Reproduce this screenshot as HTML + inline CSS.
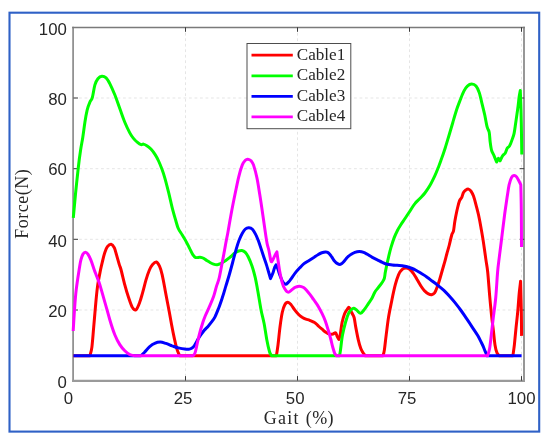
<!DOCTYPE html>
<html><head><meta charset="utf-8"><title>Cable forces</title>
<style>
html,body{margin:0;padding:0;background:#fff;}
body{width:550px;height:442px;overflow:hidden;}
svg{display:block;}
.sans{font-family:"Liberation Sans",Arial,sans-serif;font-size:16.8px;fill:#262626;}
.serif{font-family:"Liberation Serif","Times New Roman",serif;fill:#262626;}
.curve{fill:none;stroke-width:3.0;stroke-linejoin:round;stroke-linecap:butt;}
</style></head><body>
<svg width="550" height="442" viewBox="0 0 550 442">
<rect x="0" y="0" width="550" height="442" fill="#ffffff"/>
<rect x="9.5" y="12.7" width="529.7" height="418.9" fill="none" stroke="#2f61c6" stroke-width="2.1"/>
<g stroke="#e5e5e5" stroke-width="1" stroke-dasharray="2.8 2.7" fill="none">
<line x1="185.5" y1="27.3" x2="185.5" y2="380.6"/>
<line x1="297.5" y1="27.3" x2="297.5" y2="380.6"/>
<line x1="409.5" y1="27.3" x2="409.5" y2="380.6"/>
<line x1="521.5" y1="27.3" x2="521.5" y2="380.6"/>
<line x1="73.5" y1="310.0" x2="524.2" y2="310.0"/>
<line x1="73.5" y1="239.3" x2="524.2" y2="239.3"/>
<line x1="73.5" y1="168.7" x2="524.2" y2="168.7"/>
<line x1="73.5" y1="98.0" x2="524.2" y2="98.0"/>
</g>
<g fill="none" stroke-linecap="butt">
<line x1="73.1" y1="26.7" x2="73.1" y2="381.95" stroke="#929292" stroke-width="1.8"/>
<line x1="524" y1="26.7" x2="524" y2="381.95" stroke="#929292" stroke-width="1.9"/>
<line x1="72.2" y1="27.45" x2="524.95" y2="27.45" stroke="#7a7a7a" stroke-width="1.5"/>
<line x1="72.2" y1="380.9" x2="524.95" y2="380.9" stroke="#9a9a9a" stroke-width="2.1"/>
</g>
<g stroke="#3a3a3a" stroke-width="1">
<line x1="185.5" y1="380.6" x2="185.5" y2="376.1"/>
<line x1="185.5" y1="27.3" x2="185.5" y2="31.8"/>
<line x1="297.5" y1="380.6" x2="297.5" y2="376.1"/>
<line x1="297.5" y1="27.3" x2="297.5" y2="31.8"/>
<line x1="409.5" y1="380.6" x2="409.5" y2="376.1"/>
<line x1="409.5" y1="27.3" x2="409.5" y2="31.8"/>
<line x1="521.5" y1="380.6" x2="521.5" y2="376.1"/>
<line x1="521.5" y1="27.3" x2="521.5" y2="31.8"/>
<line x1="73.5" y1="310.0" x2="78.0" y2="310.0"/>
<line x1="524.2" y1="310.0" x2="519.7" y2="310.0"/>
<line x1="73.5" y1="239.3" x2="78.0" y2="239.3"/>
<line x1="524.2" y1="239.3" x2="519.7" y2="239.3"/>
<line x1="73.5" y1="168.7" x2="78.0" y2="168.7"/>
<line x1="524.2" y1="168.7" x2="519.7" y2="168.7"/>
<line x1="73.5" y1="98.0" x2="78.0" y2="98.0"/>
<line x1="524.2" y1="98.0" x2="519.7" y2="98.0"/>
</g>
<g class="curves">
<path class="curve" stroke="#ff0000" d="M73.5 355.8L89.9 355.8C90.2 354.4 91.3 351.9 91.9 347.1C92.5 342.3 93.1 333.8 93.7 327.2C94.3 320.6 94.8 313.9 95.4 307.3C96.0 300.7 96.6 293.6 97.4 287.4C98.2 281.2 99.6 274.6 100.5 270.0C101.4 265.4 102.2 262.6 102.9 259.6C103.6 256.6 104.2 254.3 104.9 252.2C105.7 250.0 106.4 248.0 107.4 246.7C108.4 245.4 109.9 244.0 111.1 244.2C112.2 244.4 113.3 245.8 114.3 247.7C115.2 249.6 116.0 253.1 116.8 255.9C117.6 258.7 118.6 262.2 119.3 264.6C120.0 267.0 120.2 266.6 121.1 270.0C122.0 273.4 123.6 280.3 124.8 284.9C126.0 289.4 127.2 293.6 128.5 297.3C129.8 301.0 131.1 305.2 132.3 307.3C133.6 309.4 134.8 310.6 136.0 309.8C137.2 309.0 138.6 305.2 139.7 302.3C140.8 299.4 141.6 296.1 142.7 292.4C143.8 288.7 144.9 283.6 146.0 279.9C147.1 276.2 148.3 272.6 149.4 270.0C150.5 267.4 151.4 265.7 152.6 264.4C153.8 263.1 155.2 261.7 156.4 262.0C157.6 262.3 158.5 264.1 159.5 266.2C160.5 268.3 161.3 270.9 162.2 274.9C163.1 278.8 164.1 284.5 165.1 289.9C166.1 295.3 167.3 301.5 168.4 307.3C169.5 313.1 170.6 319.3 171.6 324.7C172.6 330.1 173.7 335.5 174.6 339.6C175.5 343.8 176.3 346.9 177.1 349.6C177.9 352.3 179.2 354.8 179.6 355.8L276.4 355.8C276.7 354.0 277.4 349.8 278.0 345.0C278.6 340.2 279.3 332.4 280.0 327.0C280.7 321.6 281.5 316.0 282.3 312.3C283.1 308.6 283.9 306.5 284.8 304.8C285.7 303.1 286.9 302.3 287.9 302.3C288.9 302.3 289.9 303.4 291.0 304.6C292.1 305.9 293.5 308.2 294.7 309.8C295.9 311.4 297.2 313.0 298.4 314.2C299.6 315.4 300.9 316.4 302.1 317.2C303.4 318.0 304.6 318.6 305.9 319.1C307.2 319.6 308.2 319.7 309.7 320.3C311.1 320.9 313.2 321.6 314.6 322.5C316.1 323.4 317.1 324.9 318.4 326.0C319.6 327.1 320.9 328.2 322.1 329.2C323.3 330.2 324.6 331.4 325.8 332.2C327.1 333.0 328.4 333.8 329.6 334.1C330.8 334.4 332.0 334.2 333.0 334.0C334.0 333.8 334.9 332.4 335.6 332.8C336.3 333.2 336.6 335.1 337.1 336.2C337.7 337.3 338.6 338.9 338.9 339.4C339.1 338.4 339.9 336.5 340.4 333.7C340.9 330.9 341.4 325.7 342.1 322.4C342.8 319.1 343.8 315.8 344.6 313.7C345.4 311.6 346.4 310.5 347.1 309.5C347.9 308.5 348.4 307.0 349.1 307.5C349.9 308.0 350.8 310.8 351.6 312.5C352.4 314.2 353.4 315.0 354.1 317.5C354.8 320.0 355.1 323.7 355.8 327.4C356.5 331.1 357.5 336.4 358.3 339.9C359.1 343.4 360.0 346.4 360.8 348.6C361.6 350.8 362.6 351.9 363.3 353.1C364.1 354.3 365.0 355.4 365.3 355.8L383.0 355.8C383.2 354.8 383.9 353.4 384.4 349.9C384.9 346.4 385.5 340.3 386.2 334.9C386.9 329.5 387.6 323.3 388.5 317.5C389.4 311.7 390.8 305.5 391.9 300.0C393.0 294.5 394.2 288.9 395.3 284.7C396.4 280.5 397.4 277.4 398.5 274.8C399.6 272.2 400.9 270.4 402.2 269.3C403.4 268.2 404.8 268.0 406.0 268.0C407.2 268.0 408.5 268.4 409.7 269.3C410.9 270.2 412.1 271.8 413.4 273.5C414.6 275.2 415.9 277.6 417.2 279.7C418.4 281.8 419.7 284.1 420.9 286.0C422.1 287.9 423.4 289.6 424.6 290.9C425.9 292.2 427.2 293.3 428.4 293.9C429.6 294.5 430.6 294.9 431.6 294.7C432.6 294.5 433.7 294.1 434.6 292.9C435.5 291.6 436.3 289.4 437.1 287.2C437.9 285.0 438.8 282.4 439.6 279.7C440.4 277.0 441.3 273.9 442.1 271.0C442.9 268.1 443.8 265.1 444.6 262.3C445.4 259.5 446.0 256.9 446.8 254.0C447.6 251.1 448.5 248.2 449.3 245.0C450.1 241.8 451.1 237.0 451.8 234.7C452.5 232.3 453.0 233.2 453.5 230.9C454.0 228.6 454.3 224.5 454.9 221.0C455.5 217.5 456.4 213.1 457.1 209.8C457.9 206.5 458.6 203.2 459.4 201.1C460.2 199.0 461.1 198.8 461.8 197.3C462.5 195.9 462.8 193.6 463.5 192.4C464.2 191.2 465.2 190.5 466.0 189.9C466.8 189.3 467.7 188.9 468.5 189.1C469.3 189.3 470.2 189.9 471.0 191.1C471.8 192.3 472.7 193.8 473.5 196.1C474.3 198.4 475.2 201.7 476.0 204.8C476.8 207.9 477.7 211.1 478.5 214.8C479.3 218.5 480.1 222.6 480.9 227.2C481.7 231.8 482.6 236.7 483.4 242.1C484.2 247.5 485.2 254.6 485.9 259.6C486.6 264.6 487.1 266.1 487.7 272.0C488.3 277.9 489.0 287.8 489.6 295.0C490.2 302.2 490.9 309.2 491.5 315.0C492.1 320.8 492.7 324.9 493.3 329.9C493.9 334.9 494.4 341.1 495.0 344.9C495.6 348.7 496.2 351.1 497.0 352.9C497.8 354.7 499.1 355.3 499.5 355.8L512.9 355.8C513.1 353.9 513.9 349.4 514.4 344.6C514.9 339.8 515.5 333.0 516.1 327.2C516.7 321.4 517.4 315.6 517.9 309.8C518.4 304.0 518.8 297.2 519.3 292.4C519.8 287.6 520.4 283.1 520.6 281.2C520.7 286.0 521.1 300.7 521.3 309.8C521.5 318.9 521.5 331.5 521.6 335.9"/>
<path class="curve" stroke="#00ff00" d="M73.3 217.8C73.7 213.8 74.7 202.2 75.5 194.0C76.3 185.8 77.4 175.8 78.2 168.5C79.0 161.2 79.8 155.2 80.6 150.0C81.4 144.8 82.1 141.8 82.8 137.2C83.5 132.6 84.2 126.8 84.9 122.2C85.6 117.6 86.4 113.1 87.2 109.8C88.0 106.5 88.9 104.4 89.8 102.3C90.7 100.2 91.6 100.2 92.4 97.3C93.2 94.4 94.0 88.0 94.9 84.9C95.8 81.8 96.7 80.2 97.9 78.7C99.1 77.2 100.5 76.3 101.9 76.2C103.3 76.1 104.8 76.7 106.1 77.9C107.4 79.1 108.3 80.8 109.8 83.6C111.2 86.4 113.1 90.6 114.8 94.8C116.5 99.0 118.1 103.9 119.8 108.5C121.5 113.1 123.1 118.1 124.8 122.2C126.5 126.3 128.4 130.2 129.8 132.9C131.2 135.6 132.3 136.9 133.5 138.4C134.7 139.9 135.9 141.1 137.2 142.1C138.4 143.1 139.9 144.3 141.0 144.6C142.1 144.9 142.5 143.9 143.5 144.1C144.5 144.3 146.0 145.1 147.2 145.9C148.4 146.7 149.6 147.7 150.9 149.1C152.2 150.5 153.7 152.4 155.0 154.4C156.3 156.4 157.5 158.6 158.6 161.0C159.7 163.4 160.7 165.9 161.8 168.8C162.9 171.7 163.9 174.7 165.0 178.6C166.1 182.5 167.4 187.6 168.6 192.4C169.8 197.2 170.9 202.5 172.1 207.3C173.3 212.1 174.9 217.5 175.9 221.0C176.9 224.5 177.3 226.2 178.3 228.5C179.3 230.8 180.8 232.6 182.1 234.7C183.3 236.8 184.6 238.6 185.8 240.9C187.1 243.2 188.5 246.2 189.6 248.4C190.7 250.6 191.5 252.6 192.5 254.1C193.5 255.6 194.3 257.0 195.6 257.5C196.8 258.0 198.7 257.1 200.0 257.2C201.3 257.3 202.4 257.6 203.5 258.2C204.6 258.8 205.7 259.8 206.8 260.5C207.9 261.2 208.9 261.9 210.0 262.5C211.1 263.1 212.3 263.7 213.5 264.1C214.7 264.5 216.1 264.8 217.3 264.7C218.5 264.6 219.3 264.3 220.6 263.7C221.9 263.1 223.3 262.1 224.9 261.0C226.5 259.9 228.2 258.8 229.9 257.4C231.6 256.0 233.5 254.0 234.9 252.9C236.3 251.8 237.4 251.4 238.6 251.0C239.8 250.6 240.7 250.3 241.8 250.5C242.9 250.7 244.2 251.3 245.3 252.4C246.4 253.5 247.2 254.8 248.3 257.0C249.4 259.2 250.8 262.5 252.0 265.9C253.2 269.3 254.2 273.1 255.2 277.3C256.2 281.5 256.8 285.6 257.8 291.0C258.8 296.4 260.0 304.4 261.0 309.7C262.0 315.0 263.0 318.0 264.0 323.0C265.0 328.0 265.9 334.9 266.8 339.7C267.7 344.5 268.8 349.3 269.6 352.0C270.4 354.7 271.3 355.2 271.6 355.8L339.5 355.8C339.7 354.8 340.0 353.5 340.5 350.0C341.0 346.5 341.6 339.7 342.5 335.0C343.4 330.3 344.6 325.6 345.6 322.0C346.6 318.4 347.7 315.3 348.7 313.2C349.7 311.1 350.5 310.3 351.4 309.5C352.2 308.7 352.8 308.0 353.8 308.2C354.8 308.4 356.1 309.8 357.2 310.6C358.3 311.5 359.4 313.5 360.6 313.3C361.8 313.1 363.1 311.0 364.4 309.4C365.7 307.8 367.0 305.6 368.2 303.8C369.4 302.0 370.7 300.3 371.8 298.4C372.9 296.5 373.7 294.1 374.8 292.2C375.9 290.3 377.4 288.9 378.6 287.2C379.9 285.5 381.4 283.6 382.3 282.2C383.2 280.8 383.8 280.1 384.3 278.5C384.8 276.9 384.9 274.6 385.3 272.3C385.7 270.0 386.3 267.3 386.8 264.8C387.3 262.3 387.8 260.2 388.5 257.3C389.2 254.4 390.0 250.7 391.0 247.4C392.0 244.1 393.2 240.3 394.3 237.4C395.4 234.5 396.6 232.2 397.7 230.0C398.8 227.8 399.8 226.4 401.0 224.5C402.2 222.6 403.5 220.8 405.0 218.5C406.5 216.2 408.4 213.5 410.0 211.0C411.6 208.5 413.2 205.7 414.9 203.6C416.5 201.5 418.2 200.3 419.9 198.5C421.6 196.7 423.2 195.2 424.9 193.0C426.6 190.8 428.2 188.5 429.9 185.6C431.6 182.7 433.4 178.9 434.9 175.7C436.4 172.5 437.7 169.0 438.8 166.2C439.9 163.3 440.5 161.6 441.6 158.6C442.7 155.6 443.9 152.0 445.2 148.0C446.5 144.0 447.9 139.0 449.2 134.7C450.5 130.4 451.7 126.3 452.9 122.2C454.1 118.1 455.4 113.5 456.6 109.8C457.8 106.1 459.1 102.9 460.3 99.8C461.5 96.7 462.7 93.4 463.9 91.1C465.1 88.8 466.1 87.3 467.4 86.1C468.7 84.9 470.3 84.1 471.7 84.1C473.1 84.1 474.8 84.7 476.0 86.1C477.2 87.5 478.2 89.7 479.2 92.4C480.1 95.1 480.8 98.6 481.7 102.3C482.6 106.0 483.8 110.6 484.7 114.8C485.6 119.0 486.4 124.3 487.2 127.2C487.9 130.1 488.7 129.7 489.2 132.2C489.7 134.7 489.8 139.0 490.2 142.1C490.6 145.2 491.0 148.5 491.7 150.8C492.4 153.1 493.3 153.9 494.1 155.8C494.9 157.7 496.2 161.0 496.6 162.0L498.4 158.3L500.1 160.8C500.5 160.0 501.8 157.1 502.6 155.8C503.4 154.6 504.4 154.5 505.1 153.3C505.9 152.1 506.4 149.6 507.1 148.4C507.9 147.2 508.8 147.4 509.6 145.9C510.4 144.4 511.4 141.7 512.1 139.6C512.9 137.5 513.5 136.3 514.1 133.4C514.7 130.5 515.2 126.1 515.8 122.2C516.4 118.3 517.0 114.0 517.6 109.8C518.2 105.6 518.7 100.5 519.1 97.3C519.5 94.1 520.1 91.6 520.3 90.4C520.4 93.6 520.8 102.4 521.0 109.8C521.2 117.2 521.4 127.2 521.5 134.7C521.6 142.2 521.8 151.3 521.8 154.6"/>
<path class="curve" stroke="#0000ff" d="M73.5 355.8L141.0 355.8C141.6 355.2 143.2 353.6 144.7 352.1C146.1 350.6 148.0 348.1 149.7 346.6C151.4 345.2 152.9 344.1 154.7 343.4C156.4 342.6 158.3 342.1 160.2 342.1C162.1 342.1 163.9 342.8 165.9 343.4C167.9 344.0 170.0 345.1 172.1 345.9C174.2 346.6 176.2 347.4 178.3 347.9C180.4 348.4 182.7 348.9 184.6 349.1C186.5 349.3 188.1 349.4 189.5 349.1C190.9 348.8 192.1 348.5 193.3 347.1C194.6 345.7 195.8 342.9 197.0 340.9C198.2 338.9 199.3 337.0 200.6 335.2C201.8 333.4 203.3 331.5 204.5 330.0C205.7 328.5 206.8 327.7 208.0 326.4C209.2 325.1 210.2 323.8 211.4 322.2C212.6 320.6 213.8 319.2 215.0 316.8C216.2 314.4 217.5 311.0 218.8 307.7C220.1 304.4 221.4 300.4 222.6 296.8C223.8 293.2 224.8 289.5 225.9 285.9C227.0 282.3 228.1 278.8 229.2 275.0C230.3 271.2 231.4 267.1 232.5 263.0C233.6 258.9 234.7 254.3 235.8 250.6C236.9 246.8 237.9 243.3 239.0 240.5C240.1 237.7 241.1 235.4 242.2 233.5C243.3 231.6 244.3 230.0 245.4 229.0C246.5 228.0 247.7 227.6 248.9 227.7C250.1 227.8 251.3 228.2 252.4 229.3C253.5 230.4 254.5 232.2 255.5 234.1C256.5 236.0 257.3 237.9 258.3 240.5C259.3 243.1 260.4 246.7 261.3 249.4C262.2 252.2 263.0 254.5 263.8 257.0C264.6 259.5 265.6 262.1 266.4 264.6C267.2 267.1 267.9 269.7 268.6 272.0C269.3 274.3 270.2 277.5 270.5 278.6C270.9 277.8 272.0 275.5 272.7 273.6C273.4 271.7 274.1 268.8 274.7 267.4C275.2 265.9 275.8 265.3 276.0 264.9C276.3 265.5 277.0 266.7 277.7 268.6C278.4 270.5 279.4 273.9 280.2 276.1C281.0 278.3 281.8 280.4 282.7 281.8C283.6 283.2 284.7 284.2 285.6 284.3C286.5 284.4 287.4 283.2 288.2 282.4C289.0 281.6 289.5 281.1 290.6 279.5C291.8 277.9 293.5 275.1 295.1 273.1C296.7 271.1 298.7 269.0 300.2 267.4C301.7 265.8 302.5 264.9 304.0 263.7C305.5 262.5 307.4 261.5 309.1 260.4C310.8 259.3 312.7 258.1 314.2 257.2C315.7 256.2 316.7 255.4 318.0 254.7C319.3 254.0 320.5 253.2 321.8 252.8C323.1 252.4 324.6 252.1 325.6 252.0C326.6 251.9 327.0 252.1 327.6 252.4C328.2 252.7 328.8 253.2 329.5 254.0C330.2 254.8 331.1 255.9 331.8 257.0C332.6 258.1 333.1 259.4 334.0 260.5C334.9 261.6 336.4 263.0 337.5 263.6C338.6 264.2 339.5 264.6 340.5 264.3C341.5 264.0 342.6 263.0 343.7 261.8C344.8 260.6 346.1 258.6 347.4 257.3C348.6 256.1 349.9 255.1 351.2 254.3C352.4 253.5 353.5 252.9 354.9 252.4C356.3 251.9 357.9 251.6 359.4 251.6C360.8 251.6 362.3 251.9 363.6 252.4C364.9 252.9 365.9 253.5 367.4 254.3C368.8 255.1 370.6 256.4 372.3 257.3C374.0 258.2 375.6 259.0 377.3 259.8C379.0 260.6 380.6 261.6 382.3 262.3C384.0 263.1 385.6 263.9 387.3 264.3C389.0 264.8 390.7 264.8 392.3 265.0C393.9 265.2 395.6 265.2 397.2 265.3C398.8 265.4 400.5 265.6 402.2 265.8C403.9 266.1 405.5 266.4 407.2 266.8C408.9 267.2 410.5 267.8 412.2 268.5C413.9 269.2 415.5 270.1 417.2 271.0C418.9 271.9 420.5 273.0 422.2 274.0C423.9 275.0 425.5 276.0 427.1 277.2C428.8 278.4 430.4 279.7 432.1 281.0C433.8 282.3 435.1 283.2 437.1 284.8C439.1 286.4 441.8 288.5 443.9 290.4C446.0 292.3 447.6 294.2 449.5 296.3C451.4 298.4 453.3 300.5 455.2 302.9C457.1 305.3 459.1 307.9 461.0 310.5C462.9 313.1 464.7 315.9 466.6 318.7C468.5 321.5 470.3 324.2 472.2 327.1C474.1 330.0 476.5 333.4 477.9 335.8C479.3 338.2 479.9 339.6 480.8 341.4C481.7 343.2 482.5 344.7 483.2 346.4C483.9 348.1 484.5 349.8 485.2 351.4C485.9 353.0 486.8 355.1 487.1 355.8L521.6 355.8"/>
<path class="curve" stroke="#ff00ff" d="M73.2 331.0C73.4 327.5 74.0 316.7 74.5 309.8C75.0 302.9 75.4 296.5 76.2 289.9C77.0 283.3 78.3 275.0 79.1 270.0C79.9 265.0 80.2 262.4 80.9 259.8C81.6 257.2 82.2 255.4 83.0 254.1C83.8 252.8 84.6 252.2 85.4 252.2C86.2 252.2 87.0 252.8 87.9 254.1C88.8 255.4 89.7 257.2 90.8 259.8C91.9 262.4 93.3 267.2 94.3 270.0C95.3 272.8 95.9 274.0 96.8 276.5C97.7 279.0 98.6 280.6 99.9 284.9C101.2 289.2 103.2 296.5 104.9 302.3C106.6 308.1 108.2 314.3 109.8 319.7C111.4 325.1 113.1 330.5 114.8 334.7C116.5 338.9 118.1 341.9 119.8 344.6C121.5 347.3 123.1 349.1 124.8 350.8C126.5 352.5 128.1 353.8 129.8 354.6C131.5 355.4 134.0 355.6 134.8 355.8L192.4 355.8C192.7 355.6 193.7 355.4 194.2 354.6C194.7 353.8 195.0 353.4 195.6 351.0C196.2 348.6 197.1 343.9 197.9 340.5C198.7 337.1 199.6 333.5 200.4 330.5C201.2 327.5 202.1 324.8 202.9 322.3C203.7 319.9 204.3 318.3 205.3 315.8C206.3 313.3 207.7 310.6 209.1 307.4C210.5 304.2 212.2 300.4 213.5 296.8C214.8 293.2 215.6 289.1 216.6 285.9C217.6 282.7 218.4 281.5 219.3 277.5C220.2 273.5 221.5 266.4 222.3 262.0C223.2 257.6 223.7 254.7 224.4 251.0C225.1 247.3 225.8 243.0 226.4 240.0C227.0 237.0 227.0 237.2 227.8 233.0C228.6 228.8 229.8 221.1 231.0 214.7C232.2 208.3 233.6 201.0 234.9 194.8C236.2 188.6 237.4 182.3 238.6 177.3C239.8 172.3 241.2 167.7 242.3 164.9C243.4 162.1 244.4 161.2 245.3 160.3C246.2 159.4 246.8 159.1 247.8 159.2C248.8 159.3 250.2 159.9 251.1 160.8C252.0 161.8 252.6 162.2 253.5 164.9C254.4 167.7 255.8 172.3 256.8 177.3C257.9 182.3 258.8 188.6 259.8 194.8C260.8 201.0 261.9 208.5 262.8 214.7C263.7 220.9 264.6 227.2 265.3 232.1C266.0 237.0 266.6 241.0 267.2 244.0C267.8 247.0 268.2 247.4 268.8 250.0C269.4 252.6 270.1 257.6 270.6 259.5C271.1 261.4 271.1 262.1 271.8 261.5C272.5 260.9 273.9 257.5 274.7 255.9C275.5 254.3 276.5 252.6 276.9 251.9C277.1 253.6 277.8 258.7 278.3 262.0C278.8 265.3 279.1 268.2 279.8 271.8C280.5 275.4 281.5 280.4 282.4 283.3C283.2 286.2 283.9 287.5 284.9 289.0C285.8 290.5 286.8 292.2 288.1 292.2C289.4 292.2 291.3 290.0 292.5 289.2C293.7 288.4 293.9 287.8 295.1 287.3C296.3 286.8 298.1 286.2 299.5 286.2C300.9 286.2 302.4 286.8 303.6 287.5C304.8 288.2 305.5 289.1 306.5 290.2C307.5 291.3 308.7 292.8 309.7 294.1C310.7 295.4 311.7 296.9 312.5 298.0C313.3 299.1 313.6 299.6 314.6 301.0C315.6 302.4 317.1 304.4 318.3 306.5C319.5 308.6 320.8 311.0 322.0 313.4C323.2 315.8 324.3 318.2 325.3 321.0C326.3 323.8 327.3 327.1 328.2 330.0C329.1 332.9 329.9 335.7 330.6 338.5C331.4 341.3 332.0 344.6 332.7 347.0C333.4 349.4 334.0 351.6 334.6 353.1C335.2 354.6 336.3 355.4 336.6 355.8L487.6 355.8C487.9 354.6 489.0 352.1 489.6 348.6C490.2 345.1 490.7 340.1 491.3 334.9C491.9 329.7 492.6 323.8 493.3 317.5C494.1 311.2 495.1 304.6 495.8 297.0C496.5 289.4 497.0 279.1 497.6 272.0C498.2 264.9 498.9 260.8 499.6 254.6C500.4 248.4 501.3 241.3 502.1 234.7C502.9 228.1 503.8 221.0 504.6 214.8C505.4 208.6 506.4 202.3 507.1 197.3C507.9 192.3 508.4 188.2 509.1 184.9C509.9 181.6 510.8 179.0 511.6 177.4C512.4 175.8 513.3 175.5 514.1 175.4C514.9 175.3 515.8 175.9 516.6 176.9C517.4 177.9 518.4 179.9 519.1 181.2C519.8 182.5 520.5 184.3 520.8 184.9C520.9 189.1 521.2 199.4 521.3 209.8C521.4 220.2 521.5 240.9 521.5 247.1"/>
</g>
<g class="sans">
<text x="68.5" y="404.2" text-anchor="middle">0</text>
<text x="183.0" y="404.2" text-anchor="middle">25</text>
<text x="295.2" y="404.2" text-anchor="middle">50</text>
<text x="407.0" y="404.2" text-anchor="middle">75</text>
<text x="521.5" y="404.2" text-anchor="middle">100</text>
<text x="66.8" y="387.5" text-anchor="end">0</text>
<text x="66.8" y="316.8" text-anchor="end">20</text>
<text x="66.8" y="246.6" text-anchor="end">40</text>
<text x="66.8" y="174.9" text-anchor="end">60</text>
<text x="66.8" y="104.6" text-anchor="end">80</text>
<text x="66.8" y="34.7" text-anchor="end">100</text>
</g>
<rect x="247" y="43.5" width="103.8" height="85.2" fill="#ffffff" stroke="#4d4d4d" stroke-width="1"/>
<g class="serif" font-size="17.6">
<line x1="251.5" y1="55.2" x2="292.8" y2="55.2" stroke="#ff0000" stroke-width="2.8"/>
<text x="296.7" y="59.6" textLength="48.6" lengthAdjust="spacingAndGlyphs">Cable1</text>
<line x1="251.5" y1="75.8" x2="292.8" y2="75.8" stroke="#00ff00" stroke-width="2.8"/>
<text x="296.7" y="80.2" textLength="48.6" lengthAdjust="spacingAndGlyphs">Cable2</text>
<line x1="251.5" y1="96.3" x2="292.8" y2="96.3" stroke="#0000ff" stroke-width="2.8"/>
<text x="296.7" y="100.7" textLength="48.6" lengthAdjust="spacingAndGlyphs">Cable3</text>
<line x1="251.5" y1="116.9" x2="292.8" y2="116.9" stroke="#ff00ff" stroke-width="2.8"/>
<text x="296.7" y="121.3" textLength="48.6" lengthAdjust="spacingAndGlyphs">Cable4</text>
</g>
<text class="serif" font-size="18" x="263.7" y="424.2"><tspan letter-spacing="1.3">Gait </tspan><tspan x="305.8" letter-spacing="0.4">(%)</tspan></text>
<text class="serif" font-size="18" transform="translate(27.8 204.0) rotate(-90)" text-anchor="middle" textLength="69.4" lengthAdjust="spacing">Force(N)</text>
</svg>
</body></html>
